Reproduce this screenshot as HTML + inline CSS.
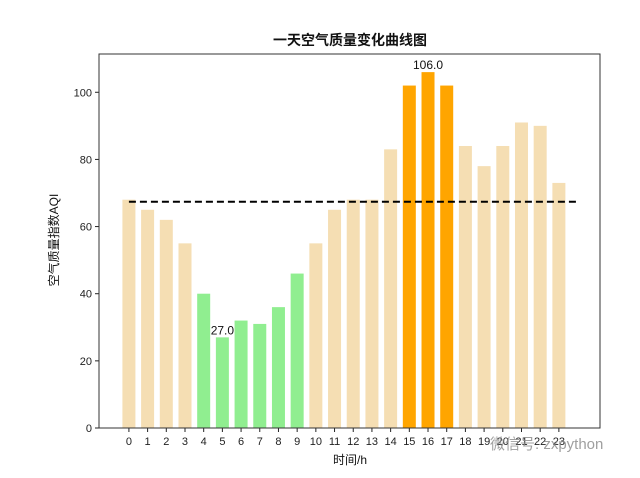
<!DOCTYPE html>
<html><head><meta charset="utf-8"><style>
body{margin:0;background:#fff;}
svg text{font-family:"Liberation Sans","Noto Sans CJK SC",sans-serif;}
</style></head><body>
<svg id="chart" width="640" height="473" viewBox="0 0 640 473" xmlns="http://www.w3.org/2000/svg">
<text x="350" y="45" text-anchor="middle" font-size="14" font-weight="bold" fill="#111">一天空气质量变化曲线图</text>
<g id="bars"></g>
<g id="axes"></g>
<text transform="translate(58,240) rotate(-90)" text-anchor="middle" font-size="12" fill="#111">空气质量指数AQI</text>
<text x="350" y="464" text-anchor="middle" font-size="12" fill="#111">时间/h</text>
<text x="490" y="449" font-size="15" fill="#888" opacity="0.8">微信号: zxpython</text>
</svg>
<script>
const hours = [0,1,2,3,4,5,6,7,8,9,10,11,12,13,14,15,16,17,18,19,20,21,22,23];
const aqi = [68,65,62,55,40,27,32,31,36,46,55,65,68,68,83,102,106,102,84,78,84,91,90,73];
const yTicks = [0,20,40,60,80,100];
const meanLine = 67.4;
const NS="http://www.w3.org/2000/svg";
const L=99,R=600,T=54,B=428, yMax=111.4, xMin=-1.6, xMax=25.2;
const xs=v=>L+(v-xMin)/(xMax-xMin)*(R-L);
const ys=v=>B-v/yMax*(B-T);
const bars=document.getElementById('bars'), axes=document.getElementById('axes');
function mk(t,a,p){const e=document.createElementNS(NS,t);for(const k in a)e.setAttribute(k,a[k]);p.appendChild(e);return e;}
const minV=Math.min(...aqi), maxV=Math.max(...aqi);
hours.forEach((h,i)=>{
  const v=aqi[i];
  const col=v<50?'#90ee90':(v>100?'#ffa500':'#f5deb3');
  const r=mk('rect',{x:xs(h)-6.5,y:ys(v),width:13,height:B-ys(v),fill:col},bars);
  
  
  if(v===minV||v===maxV){
    const t=mk('text',{x:xs(h),y:ys(v)-3,'text-anchor':'middle','font-size':'12',fill:'#111'},bars);
    t.textContent=v.toFixed(1);
    
    
  }
  const tk=mk('line',{x1:xs(h),x2:xs(h),y1:B,y2:B+4,stroke:'#222'},axes);
  
  
  const tl=mk('text',{x:xs(h),y:B+17,'text-anchor':'middle','font-size':'11',fill:'#222'},axes);
  tl.textContent=h;
  
  
});
const ml=mk('line',{x1:xs(0),x2:xs(24),y1:ys(meanLine),y2:ys(meanLine),stroke:'#000','stroke-width':2,'stroke-dasharray':'7,4'},bars);


yTicks.forEach(v=>{
  const tk=mk('line',{x1:L-4,x2:L,y1:ys(v),y2:ys(v),stroke:'#222'},axes);
  
  
  const tl=mk('text',{x:L-7,y:ys(v)+4,'text-anchor':'end','font-size':'11',fill:'#222'},axes);
  tl.textContent=v;
  
  
});
const fr=mk('rect',{x:L,y:T,width:R-L,height:B-T,fill:'none',stroke:'#333','stroke-width':1},axes);


</script>
</body></html>
